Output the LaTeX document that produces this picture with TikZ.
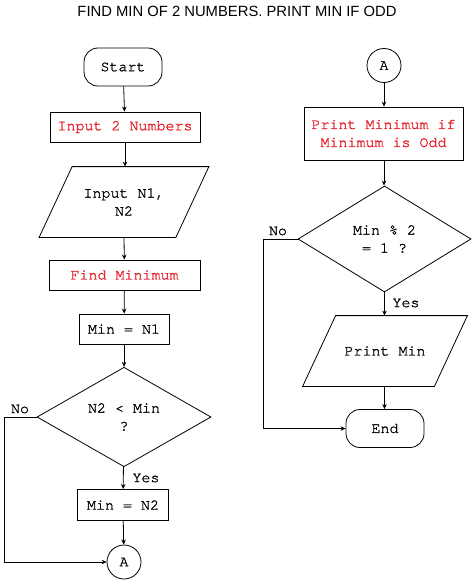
\documentclass[tikz,border=0pt]{standalone}
\usepackage{fontspec}
\setmainfont{Liberation Sans}
\newfontfamily\codefont[FakeBold=1.2]{TeX Gyre Cursor}
\usetikzlibrary{shapes.geometric,arrows.meta,calc}
\definecolor{redtxt}{RGB}{228,24,32}
\begin{document}
\begin{tikzpicture}[x=1pt,y=-1pt,
  base/.style={line width=0.8pt,font=\codefont\fontsize{15}{18}\selectfont,align=center,inner sep=2pt},
  procbox/.style={base,draw,rectangle},
  termbox/.style={base,draw,rectangle,rounded corners=14pt,minimum width=78pt,minimum height=38pt},
  iobox/.style={base,rectangle,minimum width=136pt,minimum height=70pt},
  decbox/.style={base,draw,diamond,inner sep=0pt},
  conn/.style={base,draw,circle,minimum size=34pt,inner sep=0pt},
  lbl/.style={font=\codefont\fontsize{15}{18}\selectfont,inner sep=0pt},
  arr/.style={line width=0.8pt,-{Stealth[length=5pt,width=4.5pt]}}
]
\useasboundingbox (0,0) rectangle (474,580);
\node[font=\fontsize{14.8}{17}\selectfont] (title) at (237,11.5) {FIND MIN OF 2 NUMBERS. PRINT MIN IF ODD};

% left column
\node[termbox] (start) at (123,67) {Start};
\node[procbox,minimum width=150pt,minimum height=30pt,text=redtxt] (inp) at (125,127) {Input 2 Numbers};
\node[iobox] (innum) at (124,202) {Input N1,\\N2};
\draw[line width=0.8pt] ([xshift=16.5pt]innum.north west) -- ([xshift=16.5pt]innum.north east)
  -- ([xshift=-16.5pt]innum.south east) -- ([xshift=-16.5pt]innum.south west) -- cycle;
\node[procbox,minimum width=151pt,minimum height=30pt,text=redtxt] (find) at (124.5,275) {Find Minimum};
\node[procbox,minimum width=90pt,minimum height=30pt] (min1) at (124,329) {Min = N1};
\node[decbox,minimum width=174pt,minimum height=96pt] (d1) at (124,417) {N2 < Min\\?};
\node[procbox,minimum width=91pt,minimum height=31pt] (min2) at (123,505) {Min = N2};
\node[conn] (A1) at (124,562) {A};
\coordinate (d1no) at (4,417);
\node[lbl] (no1) at (20,409) {No};
\node[lbl] (yes1) at (146,478) {Yes};

\draw[arr] (start) -- (inp);
\draw[arr] (inp) -- (innum.north -| inp.south);
\draw[arr] (innum.south) -- (find);
\draw[arr] (find) -- (min1);
\draw[arr] (min1) -- (d1);
\draw[arr] (d1) -- (min2);
\draw[arr] (min2) -- (A1);
\draw[arr] (d1.west) -- (d1no) |- (A1.west);

% right column
\node[conn] (A2) at (384,65.5) {A};
\node[procbox,minimum width=159pt,minimum height=53pt,text=redtxt] (pm) at (383.5,133.5) {Print Minimum if\\Minimum is Odd};
\node[decbox,minimum width=173pt,minimum height=106pt] (d2) at (384.5,239) {Min \% 2\\= 1 ?};
\node[iobox,minimum width=131pt] (pmin) at (385,351) {Print Min};
\draw[line width=0.8pt] ([xshift=16.5pt]pmin.north west) -- ([xshift=16.5pt]pmin.north east)
  -- ([xshift=-16.5pt]pmin.south east) -- ([xshift=-16.5pt]pmin.south west) -- cycle;
\node[termbox] (end) at (385,428.5) {End};
\coordinate (d2no) at (263,239);
\node[lbl] (no2) at (278,231) {No};
\node[lbl] (yes2) at (406,303) {Yes};

\draw[arr] (A2) -- (pm.north -| A2.south);
\draw[arr] (pm.south -| A2.south) -- (d2.north -| A2.south);
\draw[arr] (d2.south) -- (pmin.north -| d2.south);
\draw[arr] (pmin.south -| d2.south) -- (end.north -| d2.south);
\draw[arr] (d2.west) -- (d2no) |- (end.west);
\end{tikzpicture}
\end{document}
